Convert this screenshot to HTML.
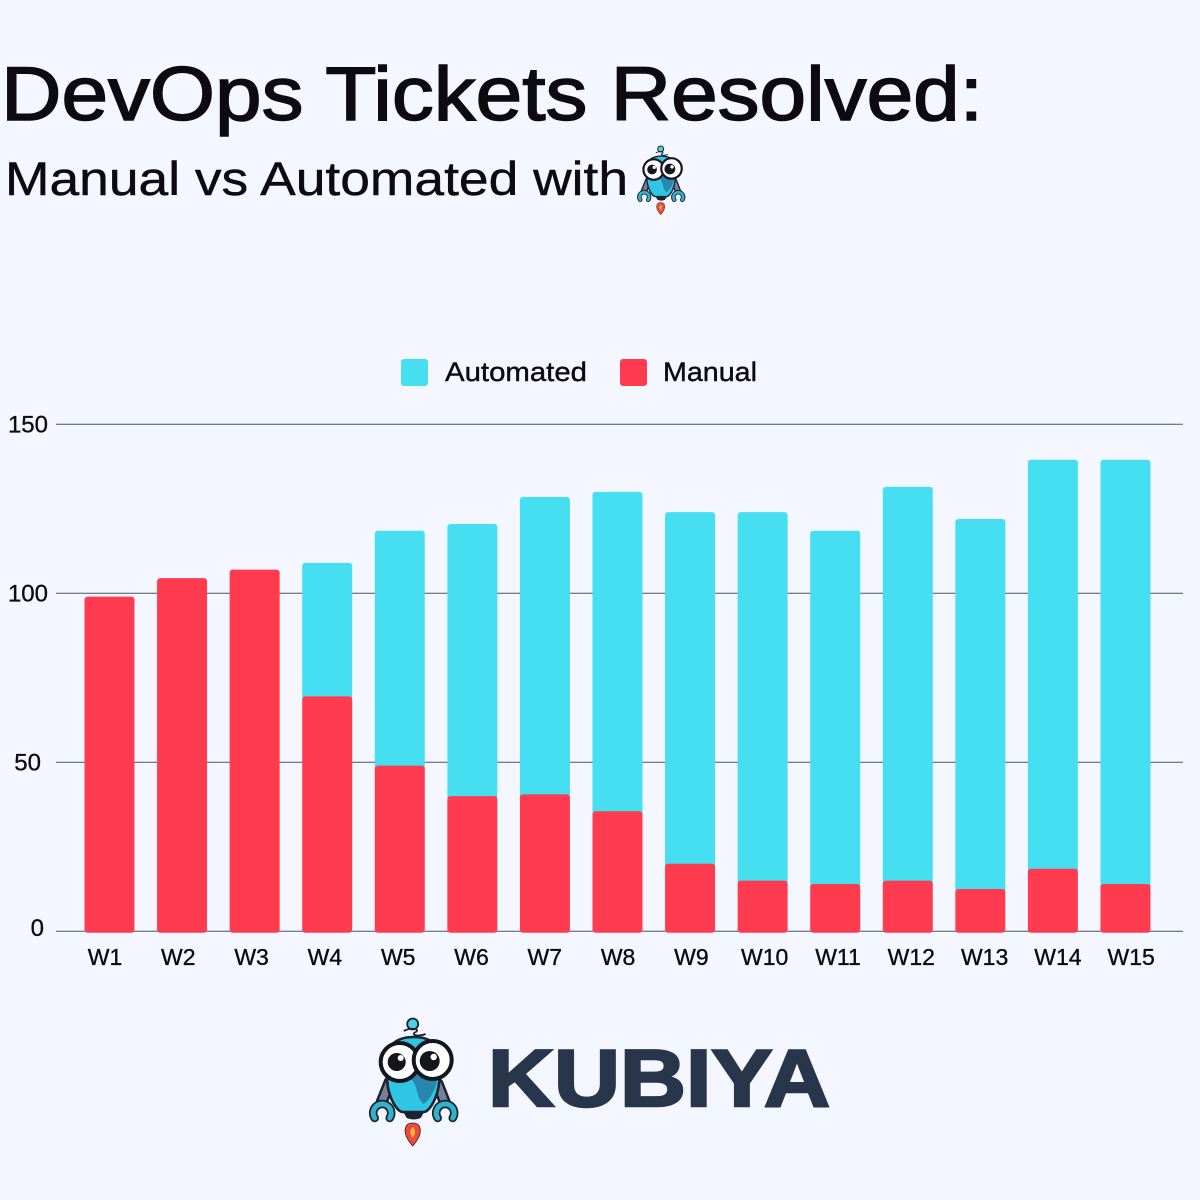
<!DOCTYPE html>
<html lang="en">
<head>
<meta charset="utf-8">
<title>DevOps Tickets Resolved</title>
<style>
html,body{margin:0;padding:0;background:#f4f7ff;}
svg{display:block;}
text{font-family:"Liberation Sans",sans-serif;fill:#0b0b10;}
</style>
</head>
<body>
<svg id="chart" xmlns="http://www.w3.org/2000/svg" width="1200" height="1200" viewBox="0 0 1200 1200">
  <defs>
    <g id="robot">
      <path d="M-23,58 L-31,78 M25,60 L32,78" stroke="#1d2230" stroke-width="12" stroke-linecap="round" fill="none"/>
      <path d="M-23,58 L-31,78 M25,60 L32,78" stroke="#76809a" stroke-width="7" stroke-linecap="round" fill="none"/>
      <path d="M-38,94 A9,9 0 1 1 -23,94 M25,94 A9,9 0 1 1 40,94" stroke="#1d2230" stroke-width="8.5" stroke-linecap="round" fill="none"/>
      <path d="M-38,94 A9,9 0 1 1 -23,94 M25,94 A9,9 0 1 1 40,94" stroke="#2fb4cc" stroke-width="5" stroke-linecap="round" fill="none"/>
      <circle cx="0" cy="0" r="5.5" fill="#52cfe2" stroke="#1d2230" stroke-width="1.8"/>
      <path d="M-9,7 C-2,3 8,5 3,8 C-3,11 6,13 13,10" fill="none" stroke="#1d2230" stroke-width="1.8"/>
      <path d="M-10,87 L12,87 L8,94 Q1,97 -6,94 Z" fill="#1d2230"/>
      <path d="M-27,40 C-27,20 -15,13 1,13 C17,13 29,20 29,40 L26,62 C23,79 15,88 11,88 L-10,88 C-14,88 -22,79 -25,62 Z" fill="#2fc6e6" stroke="#1d2230" stroke-width="2.6"/>
      <path d="M-2,55 C6,62 3,74 11,80 C18,75 24,64 26,50 L26,30 C12,30 -4,42 -2,55 Z" fill="#2a86ac"/>
      <circle cx="-13" cy="38" r="19" fill="#fff" stroke="#14161e" stroke-width="4"/>
      <circle cx="20" cy="36" r="19" fill="#fff" stroke="#14161e" stroke-width="4"/>
      <circle cx="-16" cy="38" r="9" fill="#14161e"/>
      <circle cx="17" cy="37" r="10" fill="#14161e"/>
      <circle cx="-12" cy="34" r="3" fill="#fff"/>
      <circle cx="21" cy="33" r="3.2" fill="#fff"/>
      <path d="M0,122 C-6,115 -9,109 -7,103 C-6,100 -3,99 0,99 C3,99 6,100 7,103 C9,109 6,115 0,122 Z" fill="#ee4a3c" stroke="#2a2230" stroke-width="0.8"/>
      <path d="M0,114 C-3,110 -3,106 0,103 C3,106 3,110 0,114 Z" fill="#f6b23c"/>
    </g>
  </defs>
  <rect x="0" y="0" width="1200" height="1200" fill="#f4f7ff"/>

  <text x="1" y="120" font-size="76" stroke="#0b0b10" stroke-width="1.5" textLength="982" lengthAdjust="spacingAndGlyphs">DevOps Tickets Resolved:</text>
  <text x="5" y="195" font-size="47" stroke="#0b0b10" stroke-width="0.4" textLength="623" lengthAdjust="spacingAndGlyphs">Manual vs Automated with</text>
  <use href="#robot" transform="translate(660.7 149) scale(0.54)"/>

  <rect x="401" y="359" width="27" height="27" rx="3" fill="#45dff1"/>
  <text x="445" y="381" font-size="27" stroke="#0b0b10" stroke-width="0.4" textLength="142" lengthAdjust="spacingAndGlyphs">Automated</text>
  <rect x="620" y="359" width="27" height="27" rx="3" fill="#ff3b50"/>
  <text x="663" y="381" font-size="27" stroke="#0b0b10" stroke-width="0.4" textLength="94" lengthAdjust="spacingAndGlyphs">Manual</text>

  <g id="grid"></g>
  <g id="bars"></g>
  <g id="xlabels"></g>

  <use href="#robot" transform="translate(412.7 1024)"/>
  <text x="488" y="1106" font-size="81" font-weight="700" stroke="#29354a" stroke-width="2.5" textLength="342" lengthAdjust="spacingAndGlyphs" style="fill:#29354a">KUBIYA</text>
</svg>
<script>
const weeks = ['W1','W2','W3','W4','W5','W6','W7','W8','W9','W10','W11','W12','W13','W14','W15'];
const manual = [99, 104.5, 107, 69.5, 49, 40, 40.5, 35.5, 20, 15, 14, 15, 12.5, 18.5, 14];
const automated = [0, 0, 0, 39.5, 69.5, 80.5, 88, 94.5, 104, 109, 104.5, 116.5, 109.5, 121, 125.5];
const yTicks = [0, 50, 100, 150];

const SVGNS = 'http://www.w3.org/2000/svg';
const y = v => 931.3 - v * 3.38;
const barX = i => 84.5 + i * 72.57;
const labelX = i => 105 + i * 73.3;
const BAR_W = 50;

const grid = document.getElementById('grid');
yTicks.forEach(t => {
  const line = document.createElementNS(SVGNS, 'line');
  
  
  line.setAttribute('x1', 56);
  line.setAttribute('x2', 1183);
  line.setAttribute('y1', y(t));
  line.setAttribute('y2', y(t));
  line.setAttribute('stroke', '#4d5360');
  line.setAttribute('stroke-width', '1');
  grid.appendChild(line);
  const label = document.createElementNS(SVGNS, 'text');
  
  
  label.setAttribute('x', t === 50 ? 41 : (t === 0 ? 44 : 48));
  label.setAttribute('y', y(t) + (t === 0 ? 4.5 : 8));
  label.setAttribute('text-anchor', 'end');
  label.setAttribute('font-size', '24');
  label.setAttribute('stroke', '#0b0b10');
  label.setAttribute('stroke-width', '0.3');
  label.textContent = t;
  grid.appendChild(label);
});

const bars = document.getElementById('bars');
const xlabels = document.getElementById('xlabels');
weeks.forEach((w, i) => {
  if (automated[i] > 0) {
    const a = document.createElementNS(SVGNS, 'rect');
    
    
    a.setAttribute('x', barX(i));
    a.setAttribute('y', y(manual[i] + automated[i]));
    a.setAttribute('width', BAR_W);
    a.setAttribute('height', y(manual[i]) - y(manual[i] + automated[i]) + 4);
    a.setAttribute('rx', 3);
    a.setAttribute('fill', '#45dff1');
    bars.appendChild(a);
  }
  const m = document.createElementNS(SVGNS, 'rect');
  
  
  m.setAttribute('x', barX(i));
  m.setAttribute('y', y(manual[i]));
  m.setAttribute('width', BAR_W);
  m.setAttribute('height', y(0) - y(manual[i]) + 1.5);
  m.setAttribute('rx', 3);
  m.setAttribute('fill', '#ff3b50');
  bars.appendChild(m);
  const t = document.createElementNS(SVGNS, 'text');
  
  
  t.setAttribute('x', labelX(i));
  t.setAttribute('y', 965);
  t.setAttribute('text-anchor', 'middle');
  t.setAttribute('font-size', '23');
  t.setAttribute('stroke', '#0b0b10');
  t.setAttribute('stroke-width', '0.35');
  t.textContent = w;
  xlabels.appendChild(t);
});
</script>
</body>
</html>
